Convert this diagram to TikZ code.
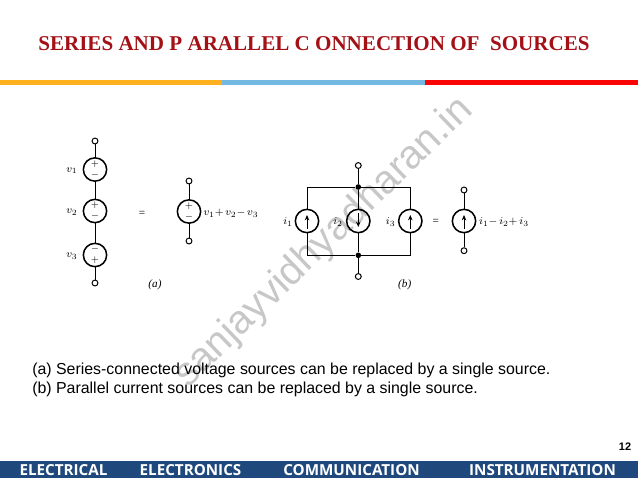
\documentclass[tikz,border=0pt]{standalone}
\usepackage{fontspec}
\setmainfont{Liberation Sans}
\newfontfamily\titlefont{Liberation Serif}
\newfontfamily\bandfont{Open Sans}
\usetikzlibrary{arrows.meta}
\definecolor{titlered}{HTML}{A31016}
\definecolor{barorange}{HTML}{FDB11F}
\definecolor{barblue}{HTML}{72B8E0}
\definecolor{barred}{HTML}{FA0505}
\definecolor{bandblue}{HTML}{1F497D}
\tikzset{
    source/.style={circle,draw,line width=1.15pt,minimum size=17.5pt,inner sep=0pt},
    terminal/.style={circle,draw,line width=0.75pt,fill=white,minimum size=4.4pt,inner sep=0pt},
    junction/.style={circle,fill,minimum size=4.2pt,inner sep=0pt},
    wire/.style={line width=0.75pt},
    sign/.style={font=\fontsize{7.5}{8}\selectfont\bfseries,inner sep=0pt},
    symb/.style={font=\fontsize{8.4}{9}\selectfont\titlefont,inner sep=0pt},
    current/.style={line width=0.75pt,-{Stealth[length=4pt,width=3.4pt]}},
    bandtext/.style={font=\fontsize{11.4}{12}\selectfont\bandfont\bfseries,text=white,inner sep=0pt}
}
\begin{document}
\begin{tikzpicture}[x=0.75pt,y=-0.75pt]
    \useasboundingbox (0,0) rectangle (638,478);
    % header
    \node[anchor=center,inner sep=0pt,text=titlered,font=\fontsize{15.8}{18}\selectfont\titlefont\bfseries] (title) at (314,43.5) {SERIES AND P ARALLEL C ONNECTION OF \ SOURCES};
    \fill[barorange] (0,80) rectangle (222,85);
    \fill[barblue] (222,80) rectangle (425,85);
    \fill[barred] (425,80) rectangle (638,85);
    % series sources
    \node[terminal] (ta) at (95,141) {};
    \node[terminal] (ba) at (95,283) {};
    \foreach \name/\y/\up/\down/\lab in {v1/169.5/+/-/{$v_1$}, v2/211/+/-/{$v_2$}, v3/255/-/+/{$v_3$}} {
        \node[source] (\name) at (95,\y) {};
        \node[sign] (\name up) at (95,\y-5.5) {$\up$};
        \node[sign] (\name down) at (95,\y+5.5) {$\down$};
        \node[symb] (\name lab) at (72,\y+1) {\lab};
    }
    \draw[wire] (ta) -- (v1) (v1) -- (v2) (v2) -- (v3) (v3) -- (ba);
    \node[symb] (eqa) at (142,214) {=};
    \node[source] (va) at (189,211.5) {};
    \node[sign] (vaup) at (189,206) {$+$};
    \node[sign] (vadown) at (189,217) {$-$};
    \node[terminal] (tva) at (189,181) {};
    \node[terminal] (bva) at (189,241) {};
    \draw[wire] (tva) -- (va) (va) -- (bva);
    \node[symb] (vasum) at (231,213.5) {$v_1{+}\,v_2{-}\,v_3$};
    \node[symb] (capa) at (155,285) {\textit{(a)}};
    % parallel sources
    \node[terminal] (tb) at (358.3,165.5) {};
    \node[terminal] (bb) at (358.3,276.5) {};
    \node[junction] (jt) at (358.3,187) {};
    \node[junction] (jb) at (358.3,255.3) {};
    \foreach \name/\x/\dir in {i1/307/1, i2/358.3/-1, i3/410.3/1, ib/464/1} {
        \node[source] (\name) at (\x,221) {};
        \coordinate (\name tail) at (\x,221+8*\dir);
        \coordinate (\name head) at (\x,221-6*\dir);
        \draw[current] (\name tail) -- (\name head);
    }
    \foreach \name/\x/\lab in {i1/288/{$i_1$}, i2/338/{$i_2$}, i3/390.7/{$i_3$}}
        \node[symb] (\name lab) at (\x,222) {\lab};
    \draw[wire] (i1) |- (jt) -| (i3);
    \draw[wire] (i1) |- (jb) -| (i3);
    \draw[wire] (tb) -- (jt) -- (i2) -- (jb) -- (bb);
    \node[symb] (eqb) at (435.7,221.7) {=};
    \node[terminal] (tib) at (464,190) {};
    \node[terminal] (bib) at (464,250.7) {};
    \draw[wire] (tib) -- (ib) (ib) -- (bib);
    \node[symb] (ibsum) at (504,222) {$i_1{-}\,i_2{+}\,i_3$};
    \node[symb] (capb) at (404.7,285) {\textit{(b)}};
    % watermark
    \node[rotate=44,text=black,opacity=0.22,inner sep=0pt,font=\fontsize{30}{34}\selectfont] (mark) at (324,243) {sanjayvidhyadharan.in};
    % notes
    \node[anchor=west,inner sep=0pt,font=\fontsize{11.93}{14}\selectfont] (noteb) at (32,370) {(a) Series-connected voltage sources can be replaced by a single source.};
    \node[anchor=west,inner sep=0pt,font=\fontsize{11.93}{14}\selectfont] (notec) at (32,389) {(b) Parallel current sources can be replaced by a single source.};
    % footer
    \node[inner sep=0pt,font=\fontsize{8.2}{9}\selectfont\bfseries] (page) at (625,447) {12};
    \fill[bandblue] (0,461) rectangle (638,478);
    \foreach \name/\x/\txt in {fa/63.5/ELECTRICAL, fb/190.5/ELECTRONICS, fc/351.5/COMMUNICATION, fd/542.5/INSTRUMENTATION}
        \node[bandtext] (\name) at (\x,470) {\txt};
\end{tikzpicture}
\end{document}
